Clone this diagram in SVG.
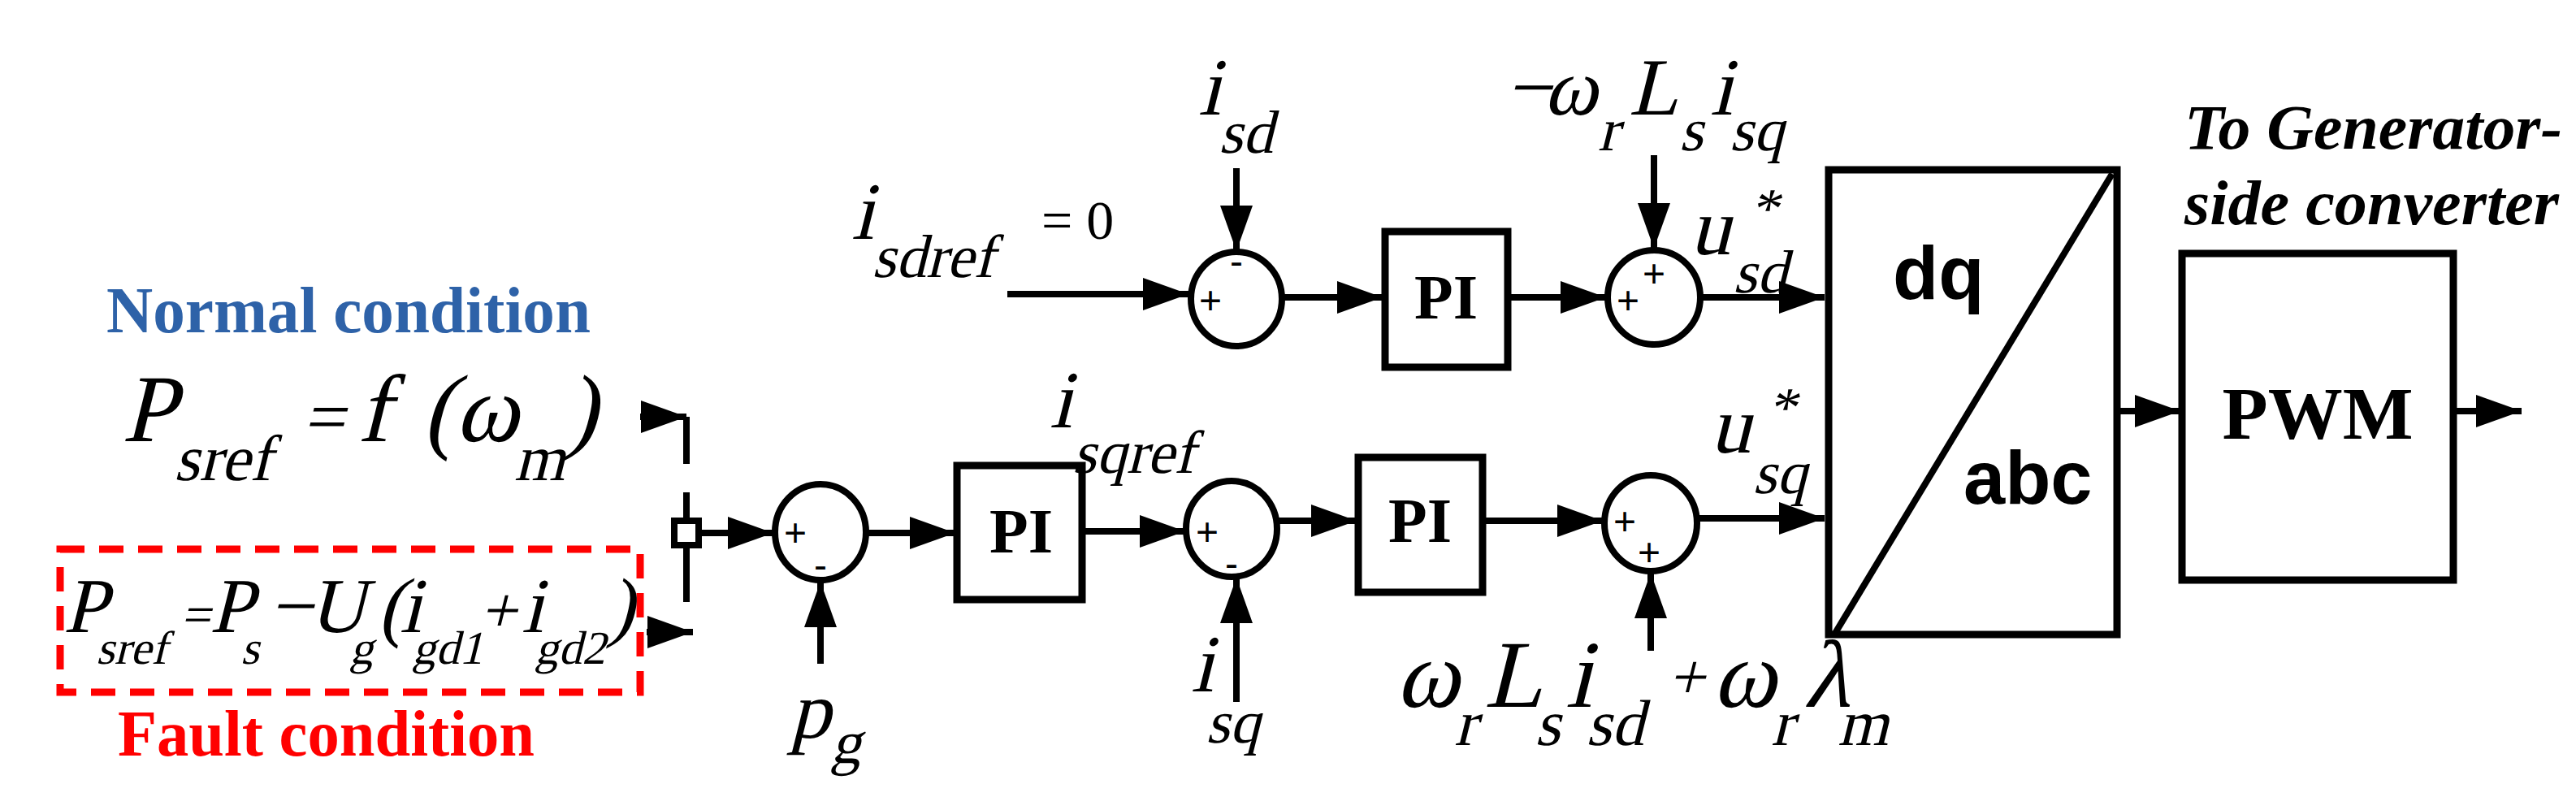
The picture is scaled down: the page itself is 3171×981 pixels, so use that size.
<svg xmlns="http://www.w3.org/2000/svg" width="3171" height="981" viewBox="0 0 3171 981">
<defs>
<marker id="ah" markerUnits="userSpaceOnUse" markerWidth="58" markerHeight="42" viewBox="0 0 58 42" refX="56" refY="21" orient="auto"><path d="M0,1 L56,21 L0,41 z" fill="#000"/></marker>
</defs>
<style>
.ln{stroke:#000;stroke-width:8;fill:none}
.bx{stroke:#000;stroke-width:9;fill:#fff}
.sum{stroke:#000;stroke-width:8;fill:#fff}
.m{font-family:"Liberation Serif",serif;fill:#000}
.n{font-family:"Liberation Serif",serif;fill:#000}
.sg{font-family:"Liberation Sans",sans-serif;font-size:48px;fill:#000;text-anchor:middle}
.pi{font-family:"Liberation Serif",serif;font-weight:bold;text-anchor:middle}
</style>
<rect width="3171" height="981" fill="#fff"/>
<g id="connectors">
<line class="ln" x1="788" y1="513" x2="845" y2="513" marker-end="url(#ah)"/>
<line class="ln" x1="845" y1="513" x2="845" y2="571"/>
<line class="ln" x1="845" y1="606" x2="845" y2="741"/>
<line class="ln" x1="796" y1="778" x2="853" y2="778" marker-end="url(#ah)"/>
<line class="ln" x1="861" y1="656" x2="952" y2="656" marker-end="url(#ah)"/>
<line class="ln" x1="1010" y1="817" x2="1010" y2="716" marker-end="url(#ah)"/>
<line class="ln" x1="1067" y1="656" x2="1176" y2="656" marker-end="url(#ah)"/>
<line class="ln" x1="1332" y1="654" x2="1459" y2="654" marker-end="url(#ah)"/>
<line class="ln" x1="1522" y1="864" x2="1522" y2="711" marker-end="url(#ah)"/>
<line class="ln" x1="1572" y1="641" x2="1670" y2="641" marker-end="url(#ah)"/>
<line class="ln" x1="1825" y1="641" x2="1973" y2="641" marker-end="url(#ah)"/>
<line class="ln" x1="2032" y1="801" x2="2032" y2="705" marker-end="url(#ah)"/>
<line class="ln" x1="2090" y1="638" x2="2246" y2="638" marker-end="url(#ah)"/>
<line class="ln" x1="1240" y1="362" x2="1463" y2="362" marker-end="url(#ah)"/>
<line class="ln" x1="1522" y1="207" x2="1522" y2="309" marker-end="url(#ah)"/>
<line class="ln" x1="1580" y1="366" x2="1702" y2="366" marker-end="url(#ah)"/>
<line class="ln" x1="1856" y1="366" x2="1977" y2="366" marker-end="url(#ah)"/>
<line class="ln" x1="2036" y1="191" x2="2036" y2="306" marker-end="url(#ah)"/>
<line class="ln" x1="2095" y1="366" x2="2246" y2="366" marker-end="url(#ah)"/>
<line class="ln" x1="2606" y1="506" x2="2684" y2="506" marker-end="url(#ah)"/>
<line class="ln" x1="3020" y1="506" x2="3104" y2="506" marker-end="url(#ah)"/>
</g>
<g id="switch"><rect x="830" y="641" width="30" height="30" fill="#fff" stroke="#000" stroke-width="8"/></g>
<g id="sum1"><ellipse class="sum" cx="1010" cy="655" rx="56" ry="59"/><text class="sg" x="979" y="672">+</text><text class="sg" x="1010" y="712">-</text></g>
<g id="sum2"><ellipse class="sum" cx="1516" cy="651" rx="56" ry="59"/><text class="sg" x="1486" y="671">+</text><text class="sg" x="1516" y="710">-</text></g>
<g id="sum3"><ellipse class="sum" cx="1522" cy="368" rx="56" ry="58"/><text class="sg" x="1490" y="386">+</text><text class="sg" x="1522" y="338">-</text></g>
<g id="sum4"><ellipse class="sum" cx="2032" cy="644" rx="57" ry="59"/><text class="sg" x="2000" y="658">+</text><text class="sg" x="2030" y="696">+</text></g>
<g id="sum5"><ellipse class="sum" cx="2036" cy="366" rx="57" ry="58"/><text class="sg" x="2004" y="386">+</text><text class="sg" x="2036" y="353">+</text></g>
<g id="pi1"><rect class="bx" x="1178" y="573" width="154" height="165"/><text class="pi" x="1257" y="680" font-size="78">PI</text></g>
<g id="pi2"><rect class="bx" x="1672" y="563" width="153" height="166"/><text class="pi" x="1748" y="667" font-size="78">PI</text></g>
<g id="pi3"><rect class="bx" x="1705" y="285" width="151" height="167"/><text class="pi" x="1780" y="392" font-size="78">PI</text></g>
<g id="dqabc"><rect class="bx" x="2251" y="209" width="355" height="572"/><line class="ln" x1="2258" y1="781" x2="2600" y2="214"/>
<text x="2330" y="368" font-family="Liberation Sans,sans-serif" font-weight="bold" font-size="92">dq</text>
<text x="2417" y="620" font-family="Liberation Sans,sans-serif" font-weight="bold" font-size="92">abc</text></g>
<g id="pwm"><rect class="bx" x="2686" y="312" width="334" height="402"/><text class="pi" x="2853" y="540" font-size="92" textLength="235" lengthAdjust="spacingAndGlyphs">PWM</text></g>
<g id="labels">
<text x="131" y="409" font-family="Liberation Serif,serif" font-weight="bold" font-size="80" fill="#2e62a8" textLength="596" lengthAdjust="spacingAndGlyphs">Normal condition</text>
<text x="145" y="930" font-family="Liberation Serif,serif" font-weight="bold" font-size="80" fill="#ff0000" textLength="513" lengthAdjust="spacingAndGlyphs">Fault condition</text>
<text x="2689" y="183" font-family="Liberation Serif,serif" font-weight="bold" font-style="italic" font-size="78" textLength="465" lengthAdjust="spacingAndGlyphs">To Generator-</text>
<text x="2689" y="276" font-family="Liberation Serif,serif" font-weight="bold" font-style="italic" font-size="78" textLength="461" lengthAdjust="spacingAndGlyphs">side converter</text>
<rect x="74" y="676" width="714" height="176" fill="none" stroke="#ff0000" stroke-width="9" stroke-dasharray="30,18"/>
<g transform="translate(0,543) skewX(-14) translate(0,-543)">
<text class="m" x="150" y="543" font-size="118">P</text><text class="m" x="226" y="591" font-size="80">sref</text>
<text class="n" x="372" y="543" font-size="90">=</text>
<text class="m" x="440" y="543" font-size="118">f</text><text class="n" x="520" y="543" font-size="118">(</text>
<text class="m" x="560" y="543" font-size="118">ω</text><text class="m" x="645" y="591" font-size="80">m</text><text class="n" x="695" y="543" font-size="118">)</text>
</g>
<g transform="translate(0,778) skewX(-14) translate(0,-778)">
<text class="m" x="78" y="778" font-size="96">P</text><text class="m" x="128" y="817" font-size="58">sref</text>
<text class="n" x="222" y="778" font-size="64">=</text>
<text class="m" x="258" y="778" font-size="96">P</text><text class="m" x="306" y="817" font-size="58">s</text>
<text class="n" x="330" y="778" font-size="96">−</text>
<text class="m" x="380" y="778" font-size="96">U</text><text class="m" x="440" y="817" font-size="58">g</text>
<text class="n" x="465" y="778" font-size="96">(</text><text class="m" x="492" y="778" font-size="96">i</text><text class="m" x="517" y="817" font-size="58">gd1</text>
<text class="n" x="590" y="778" font-size="80">+</text><text class="m" x="642" y="778" font-size="96">i</text><text class="m" x="668" y="817" font-size="58">gd2</text><text class="n" x="748" y="778" font-size="96">)</text>
</g>
<g transform="translate(0,908) skewX(-14) translate(0,-908)"><text class="m" x="972" y="908" font-size="100">p</text><text class="m" x="1030" y="939" font-size="75">g</text></g>
<g transform="translate(0,526) skewX(-14) translate(0,-526)"><text class="m" x="1292" y="526" font-size="100">i</text><text class="m" x="1334" y="582" font-size="75">sqref</text></g>
<g transform="translate(0,851) skewX(-14) translate(0,-851)"><text class="m" x="1466" y="851" font-size="100">i</text><text class="m" x="1500" y="914" font-size="75">sq</text></g>
<g transform="translate(0,294) skewX(-14) translate(0,-294)"><text class="m" x="1048" y="294" font-size="100">i</text><text class="m" x="1085" y="341" font-size="75">sdref</text></g>
<text class="n" x="1282" y="294" font-size="68">= 0</text>
<g transform="translate(0,141) skewX(-14) translate(0,-141)"><text class="m" x="1475" y="141" font-size="100">i</text><text class="m" x="1512" y="188" font-size="75">sd</text>
<text class="n" x="1852" y="141" font-size="100">−</text><text class="m" x="1900" y="141" font-size="100">ω</text><text class="m" x="1978" y="185" font-size="75">r</text>
<text class="m" x="2005" y="141" font-size="100">L</text><text class="m" x="2078" y="185" font-size="75">s</text>
<text class="m" x="2105" y="141" font-size="100">i</text><text class="m" x="2140" y="185" font-size="75">sq</text></g>
<g transform="translate(0,313) skewX(-14) translate(0,-313)"><text class="m" x="2080" y="313" font-size="100">u</text><text class="n" x="2145" y="280" font-size="70">*</text><text class="m" x="2145" y="360" font-size="75">sd</text></g>
<g transform="translate(0,557) skewX(-14) translate(0,-557)"><text class="m" x="2105" y="557" font-size="100">u</text><text class="n" x="2167" y="525" font-size="70">*</text><text class="m" x="2170" y="607" font-size="75">sq</text></g>
<g transform="translate(0,870) skewX(-14) translate(0,-870)">
<text class="m" x="1718" y="870" font-size="118">ω</text><text class="m" x="1802" y="917" font-size="80">r</text>
<text class="m" x="1827" y="870" font-size="118">L</text><text class="m" x="1901" y="917" font-size="80">s</text>
<text class="m" x="1927" y="870" font-size="118">i</text><text class="m" x="1964" y="917" font-size="80">sd</text>
<text class="n" x="2050" y="860" font-size="80">+</text>
<text class="m" x="2108" y="870" font-size="118">ω</text><text class="m" x="2192" y="917" font-size="80">r</text>
<text class="m" x="2220" y="870" font-size="118">λ</text><text class="m" x="2274" y="917" font-size="80">m</text>
</g>
</g>
</svg>
